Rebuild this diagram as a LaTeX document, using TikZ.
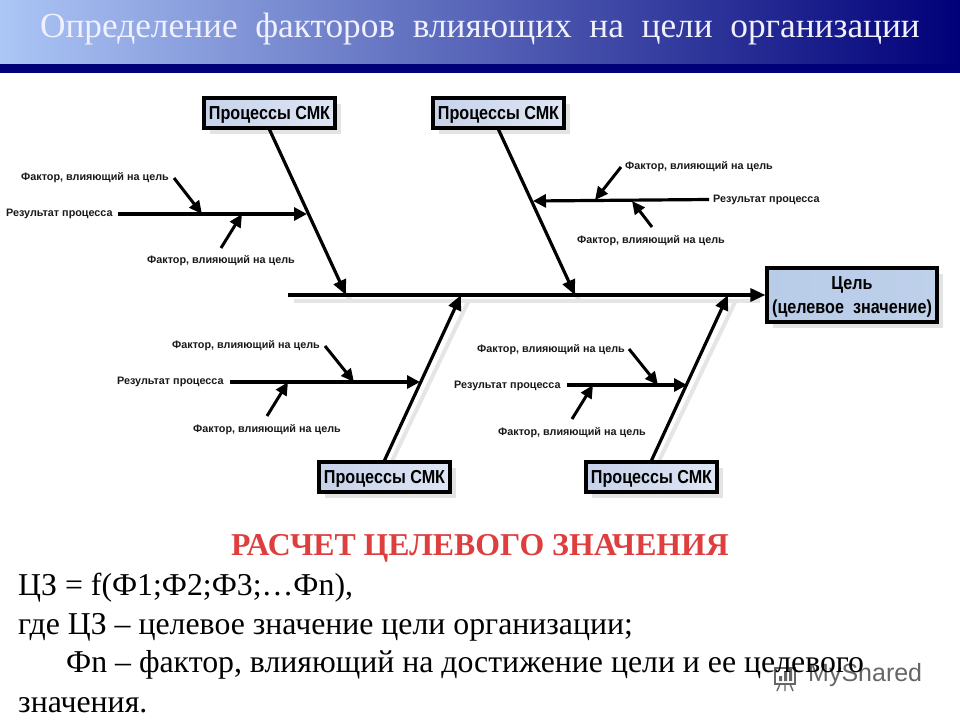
\documentclass[tikz,border=0pt]{standalone}
\usepackage{fontspec}
\setmainfont{Liberation Serif}
\setsansfont{Liberation Sans}
\newfontfamily\boxfont[FakeStretch=0.86]{Liberation Sans}
\usetikzlibrary{arrows.meta,shadows}
\definecolor{navybar}{RGB}{0,0,120}
\definecolor{titlelight}{RGB}{172,198,246}
\definecolor{titlemid}{RGB}{112,134,194}
\definecolor{redhead}{RGB}{222,62,62}
\newcommand{\boxup}{\rule{0pt}{17pt}}
\tikzset{
  x=1pt,y=-1pt,
  procbox/.style={draw=black,line width=3.2pt,minimum width=131pt,minimum height=30pt,inner sep=0pt,
    left color=boxa,right color=boxb,font=\boxfont\bfseries\fontsize{18.8}{21}\selectfont,align=center,
    general shadow={fill=black!11,shadow xshift=6pt,shadow yshift=-6pt}},
  goalbox/.style={procbox,minimum width=170pt,minimum height=54pt,left color=goala,right color=goalb},
  flabel/.style={anchor=west,inner sep=0pt,font=\sffamily\bfseries\fontsize{10.8}{12}\selectfont,text=black!90},
  bone/.style={line width=3.2pt,-{Triangle[length=15pt,width=13pt]}},
  branch/.style={line width=3.2pt,-{Triangle[length=13pt,width=13pt]}},
  factor/.style={line width=3pt,-{Triangle[length=13pt,width=12pt]}},
  shade line/.style={line width=4pt,draw=black!10},
  body/.style={anchor=west,inner sep=0pt,font=\fontsize{31.8}{34}\selectfont},
}
\definecolor{boxa}{RGB}{198,210,234}
\definecolor{boxb}{RGB}{222,230,244}
\definecolor{goala}{RGB}{184,204,232}
\definecolor{goalb}{RGB}{190,208,234}
\begin{document}
\begin{tikzpicture}
\useasboundingbox (0,0) rectangle (960,720);
\fill[white] (0,0) rectangle (960,720);
% header
\node[minimum width=960pt,minimum height=65pt,inner sep=0pt,anchor=north west,left color=titlelight,middle color=titlemid,right color=navybar] (hdr) at (0,0) {};
\node[minimum width=960pt,minimum height=9pt,inner sep=0pt,anchor=north west,fill=navybar] (bar) at (0,64) {};
\node[anchor=center,inner sep=0pt,text=white!94!blue,font=\fontsize{35.3}{38}\selectfont] (title) at (480,29) {Определение\ \ факторов\ \ влияющих\ \ на\ \ цели\ \ организации};
% free ends
\coordinate (sp0) at (288,295);
\coordinate (s1) at (346,295);
\coordinate (s2) at (575,295);
\coordinate (s3) at (461,295);
\coordinate (s4) at (728,295);
\coordinate (sh1) at (294,301);
\coordinate (sh2) at (760,301);
\coordinate (sh3) at (392,461);
\coordinate (sh4) at (468,302);
\coordinate (sh5) at (659,461);
\coordinate (sh6) at (735,302);
\coordinate (sh7) at (342,288);
\coordinate (sh8) at (351,301);
\coordinate (sh9) at (571,288);
\coordinate (sh10) at (580,301);
\draw[shade line] (sh1) -- (sh2);
\draw[shade line] (sh3) -- (sh4);
\draw[shade line] (sh5) -- (sh6);
\draw[shade line] (sh7) -- (sh8);
\draw[shade line] (sh9) -- (sh10);
% boxes
\node[procbox] (t1) at (269.5,113) {\boxup Процессы СМК};
\node[procbox] (t2) at (498.5,113) {\boxup Процессы СМК};
\node[procbox] (b1) at (384.5,477) {\boxup Процессы СМК};
\node[procbox] (b2) at (651.5,477) {\boxup Процессы СМК};
\node[goalbox] (goal) at (852,295) {\boxup Цель\\[3pt](целевое\ \ значение)};
% spine and bones
\draw[bone] (sp0) -- (goal.west);
\draw[bone] (t1.south) -- (s1);
\draw[bone] (t2.south) -- (s2);
\draw[bone] (b1.north) -- (s3);
\draw[bone] (b2.north) -- (s4);
% labels
\node[flabel] (f1) at (21,178) {Фактор, влияющий на цель};
\node[flabel] (r1) at (6,214) {Результат процесса};
\node[flabel] (f2) at (147,261) {Фактор, влияющий на цель};
\node[flabel] (f3) at (625,167) {Фактор, влияющий на цель};
\node[flabel] (r2) at (713,200) {Результат процесса};
\node[flabel] (f4) at (577,241) {Фактор, влияющий на цель};
\node[flabel] (f5) at (172,346) {Фактор, влияющий на цель};
\node[flabel] (r3) at (117,382) {Результат процесса};
\node[flabel] (f6) at (193,430) {Фактор, влияющий на цель};
\node[flabel] (f7) at (477,350) {Фактор, влияющий на цель};
\node[flabel] (r4) at (454,386) {Результат процесса};
\node[flabel] (f8) at (498,433) {Фактор, влияющий на цель};
% branch ends
\coordinate (a1) at (118,214); \coordinate (e1) at (307,214);
\coordinate (a2) at (709,199.5); \coordinate (e2) at (533,201);
\coordinate (a3) at (230,382); \coordinate (e3) at (420,382);
\coordinate (a4) at (567,385); \coordinate (e4) at (687,385);
\draw[branch] (a1) -- (e1);
\draw[branch] (a2) -- (e2);
\draw[branch] (a3) -- (e3);
\draw[branch] (a4) -- (e4);
% factor arrows
\coordinate (p1) at (174,178); \coordinate (q1) at (202,214);
\coordinate (p2) at (221,248); \coordinate (q2) at (242,214);
\coordinate (p3) at (621,167); \coordinate (q3) at (595,200);
\coordinate (p4) at (652,227); \coordinate (q4) at (632,201);
\coordinate (p5) at (325,346); \coordinate (q5) at (354,382);
\coordinate (p6) at (267,416); \coordinate (q6) at (288,382);
\coordinate (p7) at (629,349); \coordinate (q7) at (658,385);
\coordinate (p8) at (572,419); \coordinate (q8) at (593,385);
\foreach \n in {1,...,8} {\draw[factor] (p\n) -- (q\n);}
% watermark
\node[anchor=west,inner sep=0pt,text=black!60,font=\sffamily\fontsize{25}{27}\selectfont] (wm) at (808,675) {MyShared};
\draw[black!60,line width=1.6pt] (775,668) rectangle (795,684);
\fill[black!60] (779,681) rectangle (782,676) (784,681) rectangle (787,672) (789,681) rectangle (792,669);
\draw[black!60,line width=1.4pt] (780,684) -- (777,691) (785,684) -- (785,691) (790,684) -- (793,691);
% formula text
\node[inner sep=0pt,anchor=center,text=redhead,font=\bfseries\fontsize{31.8}{34}\selectfont] (head) at (480,548) {РАСЧЕТ ЦЕЛЕВОГО ЗНАЧЕНИЯ};
\node[body] (l1) at (18,588) {ЦЗ = f(Ф1;Ф2;Ф3;…Фn),};
\node[body] (l2) at (18,627) {где ЦЗ – целевое значение цели организации;};
\node[body] (l3) at (66,665) {Фn – фактор, влияющий на достижение цели и ее целевого};
\node[body] (l4) at (18,705) {значения.};
\end{tikzpicture}
\end{document}
